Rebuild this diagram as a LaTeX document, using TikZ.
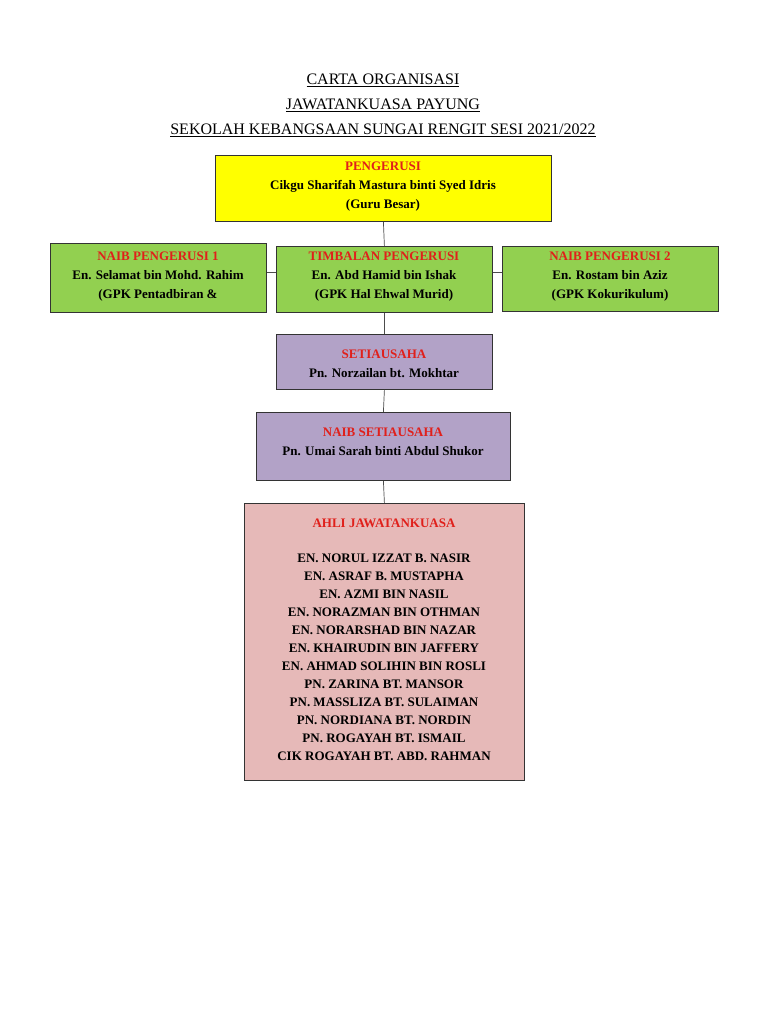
\documentclass[tikz,border=0pt]{standalone}
\usepackage{fontspec}
\setmainfont{Liberation Serif}
\definecolor{redt}{HTML}{E0201B}
\definecolor{yel}{HTML}{FFFF00}
\definecolor{grn}{HTML}{92D050}
\definecolor{pur}{HTML}{B2A2C7}
\definecolor{pnk}{HTML}{E6B9B8}
\begin{document}
\begin{tikzpicture}[x=1pt,y=-1pt,
  box/.style={draw=black!80,line width=0.8pt,anchor=north west,inner sep=0pt,align=center,font=\bfseries\fontsize{13}{16}\selectfont},
  ttl/.style={font=\fontsize{16}{18}\selectfont},
  conn/.style={draw=black!70,line width=0.7pt}]
\useasboundingbox (0,0) rectangle (768,1024);
\fill[white] (0,0) rectangle (768,1024);
\node[ttl] (t1) at (383,80) {\underline{CARTA ORGANISASI}};
\node[ttl] (t2) at (383,105) {\underline{JAWATANKUASA PAYUNG}};
\node[ttl] (t3) at (383,130) {\underline{SEKOLAH KEBANGSAAN SUNGAI RENGIT SESI 2021/2022}};

\node[box,fill=yel,minimum width=336pt,minimum height=66pt] (p) at (215,155) {};
\node[font=\bfseries\fontsize{13}{19}\selectfont,align=center] (pt) at (383,187) {\textcolor{redt}{PENGERUSI}\\Cikgu Sharifah Mastura binti Syed Idris\\(Guru Besar)};

\node[box,fill=grn,minimum width=216pt,minimum height=69pt] (n1) at (50,243) {};
\begin{scope}
\clip (50,243) rectangle (266,310);
\node[font=\bfseries\fontsize{13}{19}\selectfont,align=center,anchor=north] (n1t) at (158,248) {\textcolor{redt}{NAIB PENGERUSI 1}\\En. Selamat bin Mohd. Rahim\\(GPK Pentadbiran \&};
\end{scope}
\node[box,fill=grn,minimum width=216pt,minimum height=66pt] (tp) at (276,246) {};
\node[font=\bfseries\fontsize{13}{19}\selectfont,align=center] (tpt) at (384,277) {\textcolor{redt}{TIMBALAN PENGERUSI}\\En. Abd Hamid bin Ishak\\(GPK Hal Ehwal Murid)};
\node[box,fill=grn,minimum width=216pt,minimum height=65pt] (n2) at (502,246) {};
\node[font=\bfseries\fontsize{13}{19}\selectfont,align=center] (n2t) at (610,277) {\textcolor{redt}{NAIB PENGERUSI 2}\\En. Rostam bin Aziz\\(GPK Kokurikulum)};

\node[box,fill=pur,minimum width=216pt,minimum height=55pt] (s) at (276,334) {};
\node[font=\bfseries\fontsize{13}{19}\selectfont,align=center] (st) at (384,364) {\textcolor{redt}{SETIAUSAHA}\\Pn. Norzailan bt. Mokhtar};
\node[box,fill=pur,minimum width=254pt,minimum height=68pt] (ns) at (256,412) {};
\node[font=\bfseries\fontsize{13}{19}\selectfont,align=center] (nst) at (383,442) {\textcolor{redt}{NAIB SETIAUSAHA}\\Pn. Umai Sarah binti Abdul Shukor};

\node[box,fill=pnk,minimum width=280pt,minimum height=277pt] (a) at (244,503) {};
\node[font=\bfseries\fontsize{13}{18}\selectfont,align=center,anchor=north] (at) at (384,515) {\textcolor{redt}{AHLI JAWATANKUASA}\\[17pt]
EN. NORUL IZZAT B. NASIR\\EN. ASRAF B. MUSTAPHA\\EN. AZMI BIN NASIL\\EN. NORAZMAN BIN OTHMAN\\EN. NORARSHAD BIN NAZAR\\EN. KHAIRUDIN BIN JAFFERY\\EN. AHMAD SOLIHIN BIN ROSLI\\PN. ZARINA BT. MANSOR\\PN. MASSLIZA BT. SULAIMAN\\PN. NORDIANA BT. NORDIN\\PN. ROGAYAH BT. ISMAIL\\CIK ROGAYAH BT. ABD. RAHMAN};

\draw[conn] (p.south) -- (tp.north);
\draw[conn] (n1.east |- 0,272) -- (tp.west |- 0,272);
\draw[conn] (tp.east |- 0,272) -- (n2.west |- 0,272);
\draw[conn] (tp.south) -- (s.north);
\draw[conn] (s.south) -- (ns.north);
\draw[conn] (ns.south) -- (a.north);
\end{tikzpicture}
\end{document}
